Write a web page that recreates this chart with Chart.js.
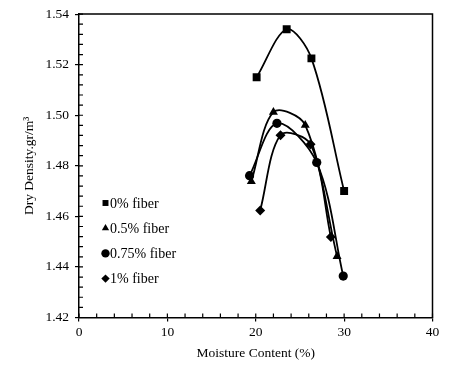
<!DOCTYPE html>
<html>
<head>
<meta charset="utf-8">
<script src="https://cdn.jsdelivr.net/npm/chart.js@4/dist/chart.umd.min.js"></script>
<style>
html,body{margin:0;padding:0;background:#fff;}
#wrap{width:474px;height:374px;}
</style>
</head>
<body>
<div id="wrap"><canvas id="c" width="474" height="374"></canvas></div>
<script>
const seriesLabels = ['0% fiber', '0.5% fiber', '0.75% fiber', '1% fiber'];
const pointStyles = ['rect', 'triangle', 'circle', 'rectRot'];
const moisture0 = [20.1, 23.5, 26.3, 30.0];
const density0 = [1.515, 1.534, 1.5225, 1.470];
const moisture05 = [19.5, 22.0, 25.6, 29.2];
const density05 = [1.4738, 1.5012, 1.4961, 1.4442];
const moisture075 = [19.3, 22.4, 26.9, 29.9];
const density075 = [1.4761, 1.4968, 1.4813, 1.4364];
const moisture1 = [20.5, 22.8, 26.2, 28.5];
const density1 = [1.4623, 1.4921, 1.4885, 1.4518];
const xTickValues = [0, 10, 20, 30, 40];
const yTickValues = [1.42, 1.44, 1.46, 1.48, 1.50, 1.52, 1.54];

const xs = [moisture0, moisture05, moisture075, moisture1];
const ys = [density0, density05, density075, density1];
const radii = [5.6, 5.2, 4.6, 5.0];

const FONT = "'Liberation Serif', 'Times New Roman', serif";

const datasets = seriesLabels.map((lab, i) => ({
  label: lab,
  data: xs[i].map((x, j) => ({x: x, y: ys[i][j]})),
  showLine: true,
  borderColor: '#000',
  backgroundColor: '#000',
  borderWidth: 1.8,
  tension: 0.33,
  pointStyle: pointStyles[i],
  pointRadius: radii[i],
  pointBackgroundColor: '#000',
  pointBorderColor: '#000',
  pointBorderWidth: 0
}));

const frame = {
  id: 'frame',
  afterDraw(chart) {
    const ctx = chart.ctx;
    const a = chart.chartArea;
    const xs_ = chart.scales.x, ys_ = chart.scales.y;
    ctx.save();
    ctx.strokeStyle = '#000';
    ctx.lineWidth = 1.5;
    ctx.beginPath();
    ctx.moveTo(a.left, a.top); ctx.lineTo(a.right, a.top); ctx.lineTo(a.right, a.bottom);
    ctx.stroke();
    ctx.lineWidth = 1.2;
    ctx.beginPath();
    for (let v = xs_.min; v <= xs_.max + 1e-9; v += 2) {
      const px = xs_.getPixelForValue(v);
      ctx.moveTo(px, a.bottom); ctx.lineTo(px, a.bottom - 4);
    }
    for (let k = 0; k <= 30; k++) {
      const v = ys_.min + k * 0.004;
      const py = ys_.getPixelForValue(v);
      ctx.moveTo(a.left, py); ctx.lineTo(a.left + 4, py);
    }
    ctx.stroke();
    // legend
    ctx.font = '14px ' + FONT;
    ctx.fillStyle = '#000';
    ctx.textBaseline = 'middle';
    chart.data.datasets.forEach((ds, i) => {
      const y = 203 + i * 25.2;
      const x = 105.5;
      ctx.fillStyle = '#000';
      ctx.strokeStyle = '#000';
      Chart.helpers.drawPoint(ctx, {pointStyle: ds.pointStyle, radius: 4.2, borderWidth: 0, rotation: 0}, x, y);
      ctx.fillText(ds.label, x + 4.5, y + 1);
    });
    ctx.restore();
  }
};

new Chart(document.getElementById('c'), {
  type: 'scatter',
  data: {datasets},
  options: {
    responsive: false,
    animation: false,
    events: [],
    layout: {padding: {left: 0, top: 13, right: 41.5, bottom: 0}},
    plugins: {legend: {display: false}, tooltip: {enabled: false}},
    scales: {
      x: {
        type: 'linear', min: 0, max: 40,
        afterBuildTicks: s => { s.ticks = xTickValues.map(v => ({value: v})); },
        afterFit: s => { s.height = 56.5; },
        ticks: {color: '#000', font: {family: FONT, size: 13.5}, padding: 3},
        grid: {drawOnChartArea: false, color: '#000', tickLength: 4, lineWidth: 1.2},
        border: {color: '#000', width: 1.5},
        title: {display: true, text: 'Moisture Content (%)', color: '#000', font: {family: FONT, size: 13.5}, padding: {top: 0, bottom: 12}}
      },
      y: {
        type: 'linear', min: 1.42, max: 1.54,
        afterBuildTicks: s => { s.ticks = yTickValues.map(v => ({value: v})); },
        afterFit: s => { s.width = 79; },
        ticks: {color: '#000', font: {family: FONT, size: 13.5}, padding: 6, callback: v => v.toFixed(2)},
        grid: {drawOnChartArea: false, color: '#000', tickLength: 4, lineWidth: 1.2},
        border: {color: '#000', width: 1.5},
        title: {display: true, text: 'Dry Density.gr/m³', color: '#000', font: {family: FONT, size: 13.5}, padding: {top: 21, bottom: 0}}
      }
    }
  },
  plugins: [frame]
});
</script>
</body>
</html>
